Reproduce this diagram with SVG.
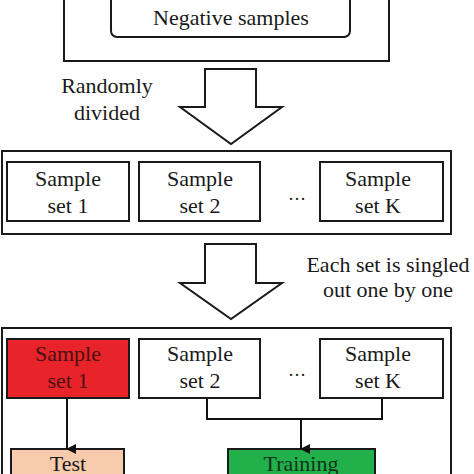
<svg xmlns="http://www.w3.org/2000/svg" width="474" height="474" viewBox="0 0 474 474">
<defs>
<style>
.box{fill:#fff;stroke:#1a1a1a;stroke-width:2}
.t{font-family:"Liberation Serif",serif;font-size:22px;fill:#1a1a1a;text-anchor:middle}
.line{fill:none;stroke:#111;stroke-width:2}
.big{fill:#fff;stroke:#1a1a1a;stroke-width:2;stroke-linejoin:miter}
</style>
<marker id="ah" markerWidth="10" markerHeight="10" refX="5" refY="9" orient="auto-start-reverse" markerUnits="userSpaceOnUse" viewBox="0 0 10 10">
<path d="M0,0 L10,0 L5,10 Z" fill="#111"/>
</marker>
</defs>
<rect width="474" height="474" fill="#fff"/>

<g id="top-group">
<rect class="box" x="64" y="-10" width="325" height="71"/>
<rect class="box" x="111" y="-20" width="239" height="57" rx="6"/>
<text class="t" x="231" y="25">Negative samples</text>
</g>

<g id="arrow1">
<path class="big" d="M205,69 H256 V107 H282 L231,144 L180,107 H205 Z"/>
<text class="t" x="107" y="93">Randomly</text>
<text class="t" x="107" y="120">divided</text>
</g>

<g id="sets-group">
<rect class="box" x="2" y="151" width="449" height="83"/>
<g id="set1a"><rect class="box" x="7" y="162" width="122" height="59"/><text class="t" x="68" y="186">Sample</text><text class="t" x="68" y="213">set 1</text></g>
<g id="set2a"><rect class="box" x="139" y="162" width="121" height="59"/><text class="t" x="200" y="186">Sample</text><text class="t" x="200" y="213">set 2</text></g>
<text class="t" x="297" y="200" style="font-size:18px">…</text>
<g id="setKa"><rect class="box" x="320" y="162" width="123" height="59"/><text class="t" x="378" y="186">Sample</text><text class="t" x="378" y="213">set K</text></g>
</g>

<g id="arrow2">
<path class="big" d="M205,244 H256 V283 H282 L231,319 L180,283 H205 Z"/>
<text class="t" x="388" y="272">Each set is singled</text>
<text class="t" x="388" y="297">out one by one</text>
</g>

<g id="cv-group">
<rect class="box" x="2" y="328" width="449" height="160"/>
<g id="set1b"><rect x="7" y="339" width="122" height="59" fill="#e8232a" stroke="#1a1a1a" stroke-width="2"/><text class="t" x="68" y="361" style="fill:#4a1212">Sample</text><text class="t" x="68" y="388" style="fill:#4a1212">set 1</text></g>
<g id="set2b"><rect class="box" x="139" y="339" width="121" height="59"/><text class="t" x="200" y="361">Sample</text><text class="t" x="200" y="388">set 2</text></g>
<text class="t" x="297" y="376" style="font-size:18px">…</text>
<g id="setKb"><rect class="box" x="320" y="339" width="123" height="59"/><text class="t" x="378" y="361">Sample</text><text class="t" x="378" y="388">set K</text></g>
<g id="test"><rect x="11" y="449" width="113" height="40" fill="#f8cbad" stroke="#1a1a1a" stroke-width="2"/><text class="t" x="68" y="471">Test</text></g>
<g id="training"><rect x="228" y="449" width="147" height="40" fill="#22b04b" stroke="#1a1a1a" stroke-width="2"/><text class="t" x="301" y="471" style="fill:#10331a">Training</text></g>
</g>

<g id="connectors">
<path class="line" d="M67,398 V449" marker-end="url(#ah)"/>
<path class="line" d="M207,398 V419 H382 V398"/>
<path class="line" d="M301,419 V449" marker-end="url(#ah)"/>
</g>
</svg>
